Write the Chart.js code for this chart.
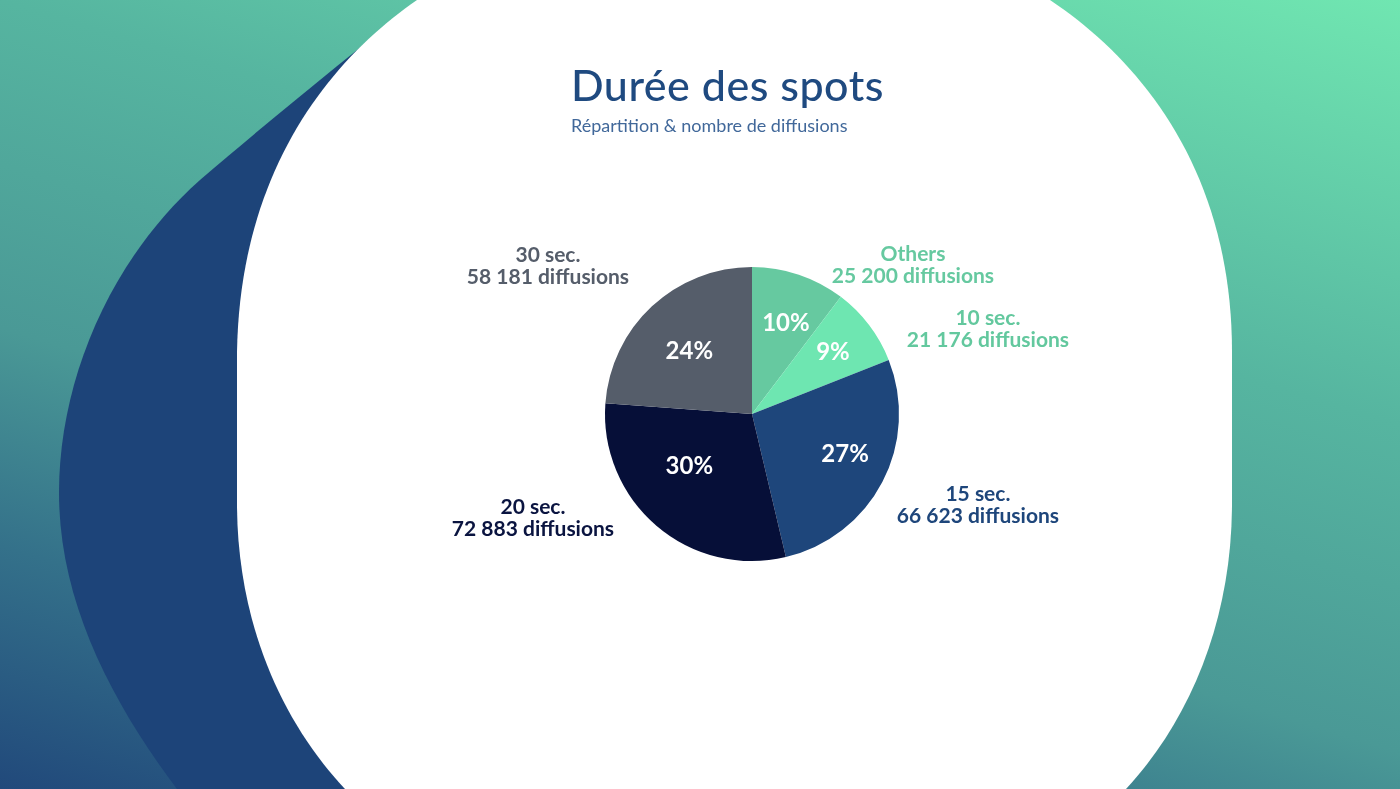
<!DOCTYPE html>
<html>
<head>
<meta charset="utf-8">
<script src="https://cdn.jsdelivr.net/npm/chart.js@4.4.1/dist/chart.umd.min.js"></script>
<style>
  html, body { margin: 0; padding: 0; width: 1400px; height: 789px; overflow: hidden; }
  #wrap { position: relative; width: 1400px; height: 789px; }
  #bg { position: absolute; left: 0; top: 0; }
  #chart { position: absolute; left: 0; top: 0; }
  .title { position: absolute; left: 571px; top: 63px; font-family: "Lato", "Open Sans", sans-serif; font-weight: 500; font-size: 43px; color: #1f4a80; letter-spacing: 0.5px; white-space: nowrap; line-height: 1; }
  .subtitle { position: absolute; left: 571px; top: 116px; font-family: "Lato", "Open Sans", sans-serif; font-weight: 400; font-size: 18px; color: #41689a; white-space: nowrap; line-height: 1; }
</style>
</head>
<body>
<div id="wrap">
  <svg id="bg" width="1400" height="789" viewBox="0 0 1400 789">
    <defs>
      <linearGradient id="g" gradientUnits="userSpaceOnUse" x1="1400" y1="0" x2="1063" y2="1111">
        <stop offset="0" stop-color="#70e6b1"/>
        <stop offset="0.35" stop-color="#56b5a0"/>
        <stop offset="0.62" stop-color="#4a9996"/>
        <stop offset="0.8" stop-color="#34718a"/>
        <stop offset="1" stop-color="#21497b"/>
      </linearGradient>
    </defs>
    <rect x="0" y="0" width="1400" height="789" fill="url(#g)"/>
    <path d="M 420 0 L 700 0 L 700 789 L 177 789 C 110 700 59 600 59 493 C 59 380 110 260 200 180 C 270 120 350 55 420 0 Z" fill="#1d4479"/>
    <path d="M 417 0 C 330 60 240 170 237 352 L 237 503 C 237 620 280 720 345 789 L 1126 789 C 1190 720 1232 620 1232 503 L 1232 352 C 1232 170 1140 60 1050 0 Z" fill="#ffffff"/>
  </svg>
  <canvas id="chart" width="1400" height="789"></canvas>
  <div class="title">Durée des spots</div>
  <div class="subtitle">Répartition &amp; nombre de diffusions</div>
</div>
<script>
// ---- data ----
const categories = ["Others", "10 sec.", "15 sec.", "20 sec.", "30 sec."];
const diffusions = [25200, 21176, 66623, 72883, 58181];
const sliceColors = ["#66c9a0", "#6ee6b1", "#1e467b", "#060f38", "#555d6a"];
const labelColors = ["#66c9a0", "#63c89e", "#1e467b", "#0a1440", "#555d6a"];
// label block centres, relative to the pie centre, in units of pie radius
const labelOffsets = [[1.095, -1.014], [1.605, -0.578], [1.537, 0.619], [-1.49, 0.707], [-1.388, -1.007]];
const pctOffsets = [[0.231, -0.619], [0.551, -0.418], [0.633, 0.272], [-0.426, 0.354], [-0.426, -0.425]];

function fmt(n) {
  return String(n).replace(/\B(?=(\d{3})+(?!\d))/g, " ");
}

const total = diffusions.reduce((a, b) => a + b, 0);

const labelPlugin = {
  id: "sliceLabels",
  afterDatasetsDraw(chart) {
    const ctx = chart.ctx;
    const meta = chart.getDatasetMeta(0);
    ctx.save();
    ctx.textAlign = "center";
    ctx.textBaseline = "middle";
    meta.data.forEach((arc, i) => {
      const p = arc.getProps(["x", "y", "outerRadius"], true);
      const r = p.outerRadius;
      const pct = Math.round(diffusions[i] / total * 100) + "%";
      ctx.font = "bold 24px Lato, 'Open Sans', sans-serif";
      ctx.fillStyle = "#ffffff";
      ctx.fillText(pct, p.x + pctOffsets[i][0] * r, p.y + pctOffsets[i][1] * r);

      const lx = p.x + labelOffsets[i][0] * r;
      const ly = p.y + labelOffsets[i][1] * r;
      ctx.font = "bold 21px Lato, 'Open Sans', sans-serif";
      ctx.fillStyle = labelColors[i];
      ctx.fillText(categories[i], lx, ly - 11);
      ctx.fillText(fmt(diffusions[i]) + " diffusions", lx, ly + 11);
    });
    ctx.restore();
  }
};

new Chart(document.getElementById("chart"), {
  type: "pie",
  data: {
    labels: categories,
    datasets: [{
      data: diffusions,
      backgroundColor: sliceColors,
      borderWidth: 0
    }]
  },
  options: {
    responsive: false,
    animation: false,
    layout: { padding: { top: 267, bottom: 228, left: 500, right: 396 } },
    plugins: {
      legend: { display: false },
      tooltip: { enabled: false },
      title: { display: false }
    }
  },
  plugins: [labelPlugin]
});
</script>
</body>
</html>
